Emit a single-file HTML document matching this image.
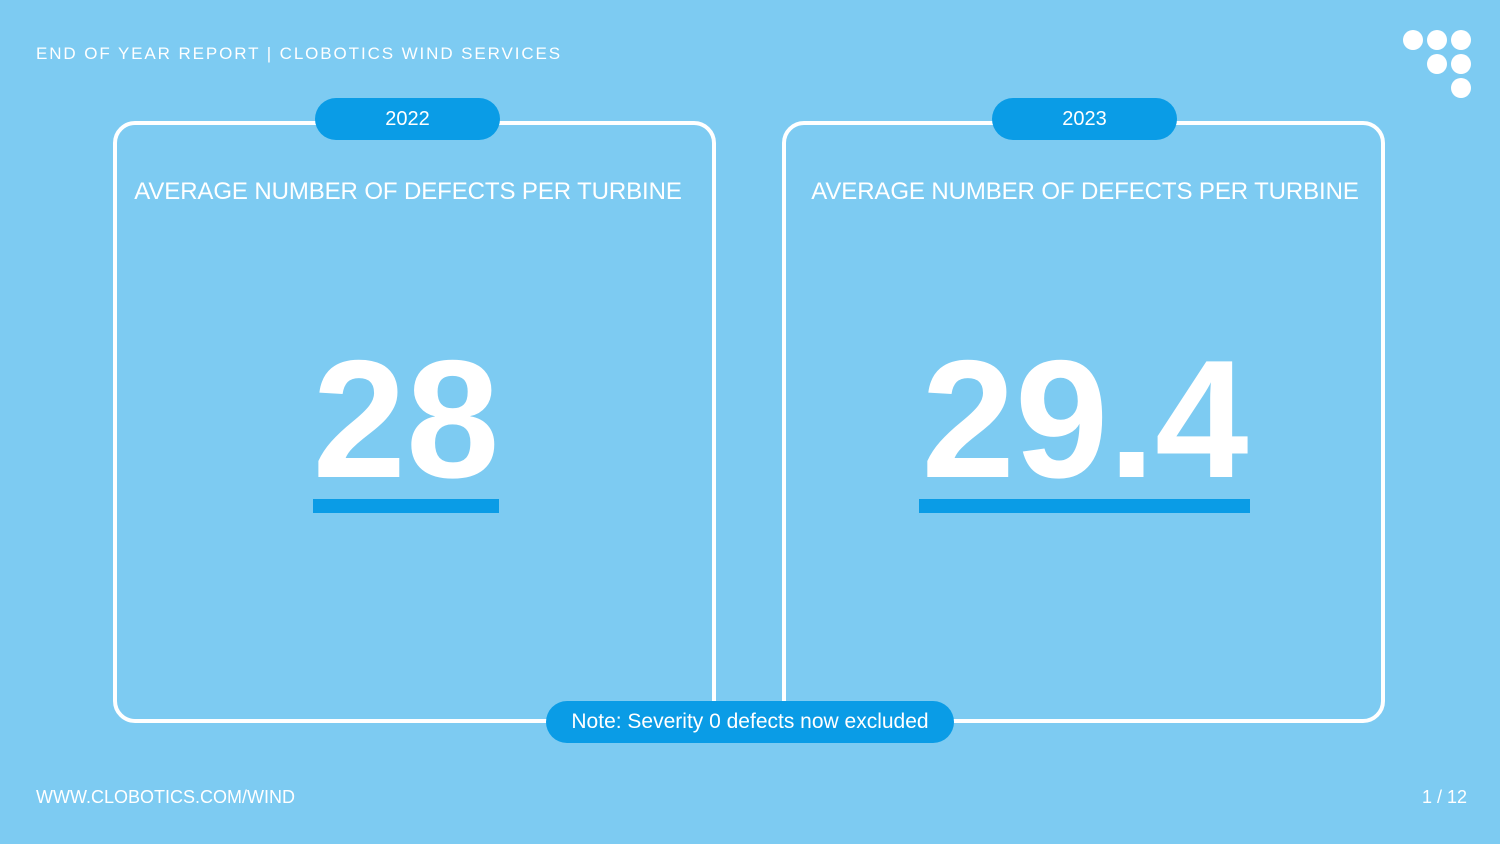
<!DOCTYPE html><html><head><style>
body{margin:0;width:1500px;height:844px;background:#7dcbf2;position:relative;overflow:hidden;font-family:"Liberation Sans",sans-serif;color:#fff}
.a{position:absolute}
.box{position:absolute;top:121px;width:595px;height:594px;border:4px solid #fff;border-radius:22px}
.pill{position:absolute;background:#0a9ce6;border-radius:21px;height:42px;line-height:42px;text-align:center;font-size:20px}
.t{position:absolute;top:178px;font-size:24px;white-space:nowrap;text-align:center;width:600px;letter-spacing:-0.1px}
.n{position:absolute;top:335px;font-size:168px;font-weight:bold;line-height:168px;text-align:center;width:600px}
.u{position:absolute;top:499px;height:14px;background:#0a9ce6}
.d{position:absolute;width:20px;height:20px;border-radius:50%;background:#fff}
</style></head><body>
<div class="a" style="left:36px;top:44px;font-size:17px;letter-spacing:1.9px">END OF YEAR REPORT | CLOBOTICS WIND SERVICES</div>
<div class="d" style="left:1403px;top:30px"></div><div class="d" style="left:1427px;top:30px"></div><div class="d" style="left:1451px;top:30px"></div>
<div class="d" style="left:1427px;top:54px"></div><div class="d" style="left:1451px;top:54px"></div><div class="d" style="left:1451px;top:78px"></div>
<div class="box" style="left:113px"></div><div class="box" style="left:782px"></div>
<div class="pill" style="left:315px;top:98px;width:185px">2022</div>
<div class="pill" style="left:992px;top:98px;width:185px">2023</div>
<div class="t" style="left:108px">AVERAGE NUMBER OF DEFECTS PER TURBINE</div>
<div class="t" style="left:785px">AVERAGE NUMBER OF DEFECTS PER TURBINE</div>
<div class="n" style="left:106px">28</div>
<div class="n" style="left:785px">29.4</div>
<div class="u" style="left:313px;width:186px"></div>
<div class="u" style="left:919px;width:331px"></div>
<div class="pill" style="left:546px;top:701px;width:408px;font-size:21px">Note: Severity 0 defects now excluded</div>
<div class="a" style="left:36px;top:787px;font-size:18px">WWW.CLOBOTICS.COM/WIND</div>
<div class="a" style="left:1422px;top:787px;font-size:18px">1 / 12</div>
</body></html>
